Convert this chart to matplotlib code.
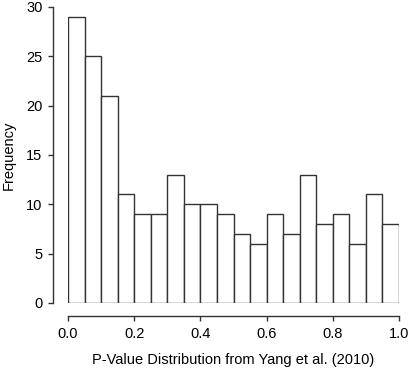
import numpy as np
import matplotlib
matplotlib.use('Agg')
import matplotlib.pyplot as plt

plt.rcParams['font.family'] = ['Liberation Sans', 'DejaVu Sans']

# histogram of p-values, 20 bins of width 0.05
bin_edges = np.linspace(0.0, 1.0, 21)
counts = [29, 25, 21, 11, 9, 9, 13, 10, 10, 9, 7, 6, 9, 7, 13, 8, 9, 6, 11, 8]
x_ticks = [0.0, 0.2, 0.4, 0.6, 0.8, 1.0]
y_ticks = [0, 5, 10, 15, 20, 25, 30]

fig = plt.figure(figsize=(4.09, 3.71), dpi=100)
ax = fig.add_axes([68 / 409, 1 - 303 / 371, 331 / 409, 296 / 371])

line_col = '#333333'
ax.hist(bin_edges[:-1], bins=bin_edges, weights=counts,
        facecolor='white', edgecolor=line_col, linewidth=1.0)

ax.set_xlim(0, 1)
ax.set_ylim(0, 30)
ax.set_xticks(x_ticks)
ax.set_xticklabels(['0.0', '0.2', '0.4', '0.6', '0.8', '1.0'])
ax.set_yticks(y_ticks)

# R-style detached axes (offsets given in points: 1 px = 0.72 pt)
for s in ['top', 'right']:
    ax.spines[s].set_visible(False)
ax.spines['left'].set_position(('outward', 10.8))
ax.spines['bottom'].set_position(('outward', 9.4))
ax.spines['left'].set_bounds(0, 30)
ax.spines['bottom'].set_bounds(0, 1)
for s in ['left', 'bottom']:
    ax.spines[s].set_color(line_col)
    ax.spines[s].set_linewidth(1.0)

ax.tick_params(length=3.6, width=1.0, color=line_col, labelsize=10.5, pad=4)
ax.set_xlabel('P-Value Distribution from Yang et al. (2010)', fontsize=10.5)
ax.set_ylabel('Frequency', fontsize=10.5)
ax.xaxis.set_label_coords(0.5, (303 - 353) / 296)
ax.yaxis.set_label_coords((16 - 68) / 331, 0.5)

fig.savefig('out.png', dpi=100)
